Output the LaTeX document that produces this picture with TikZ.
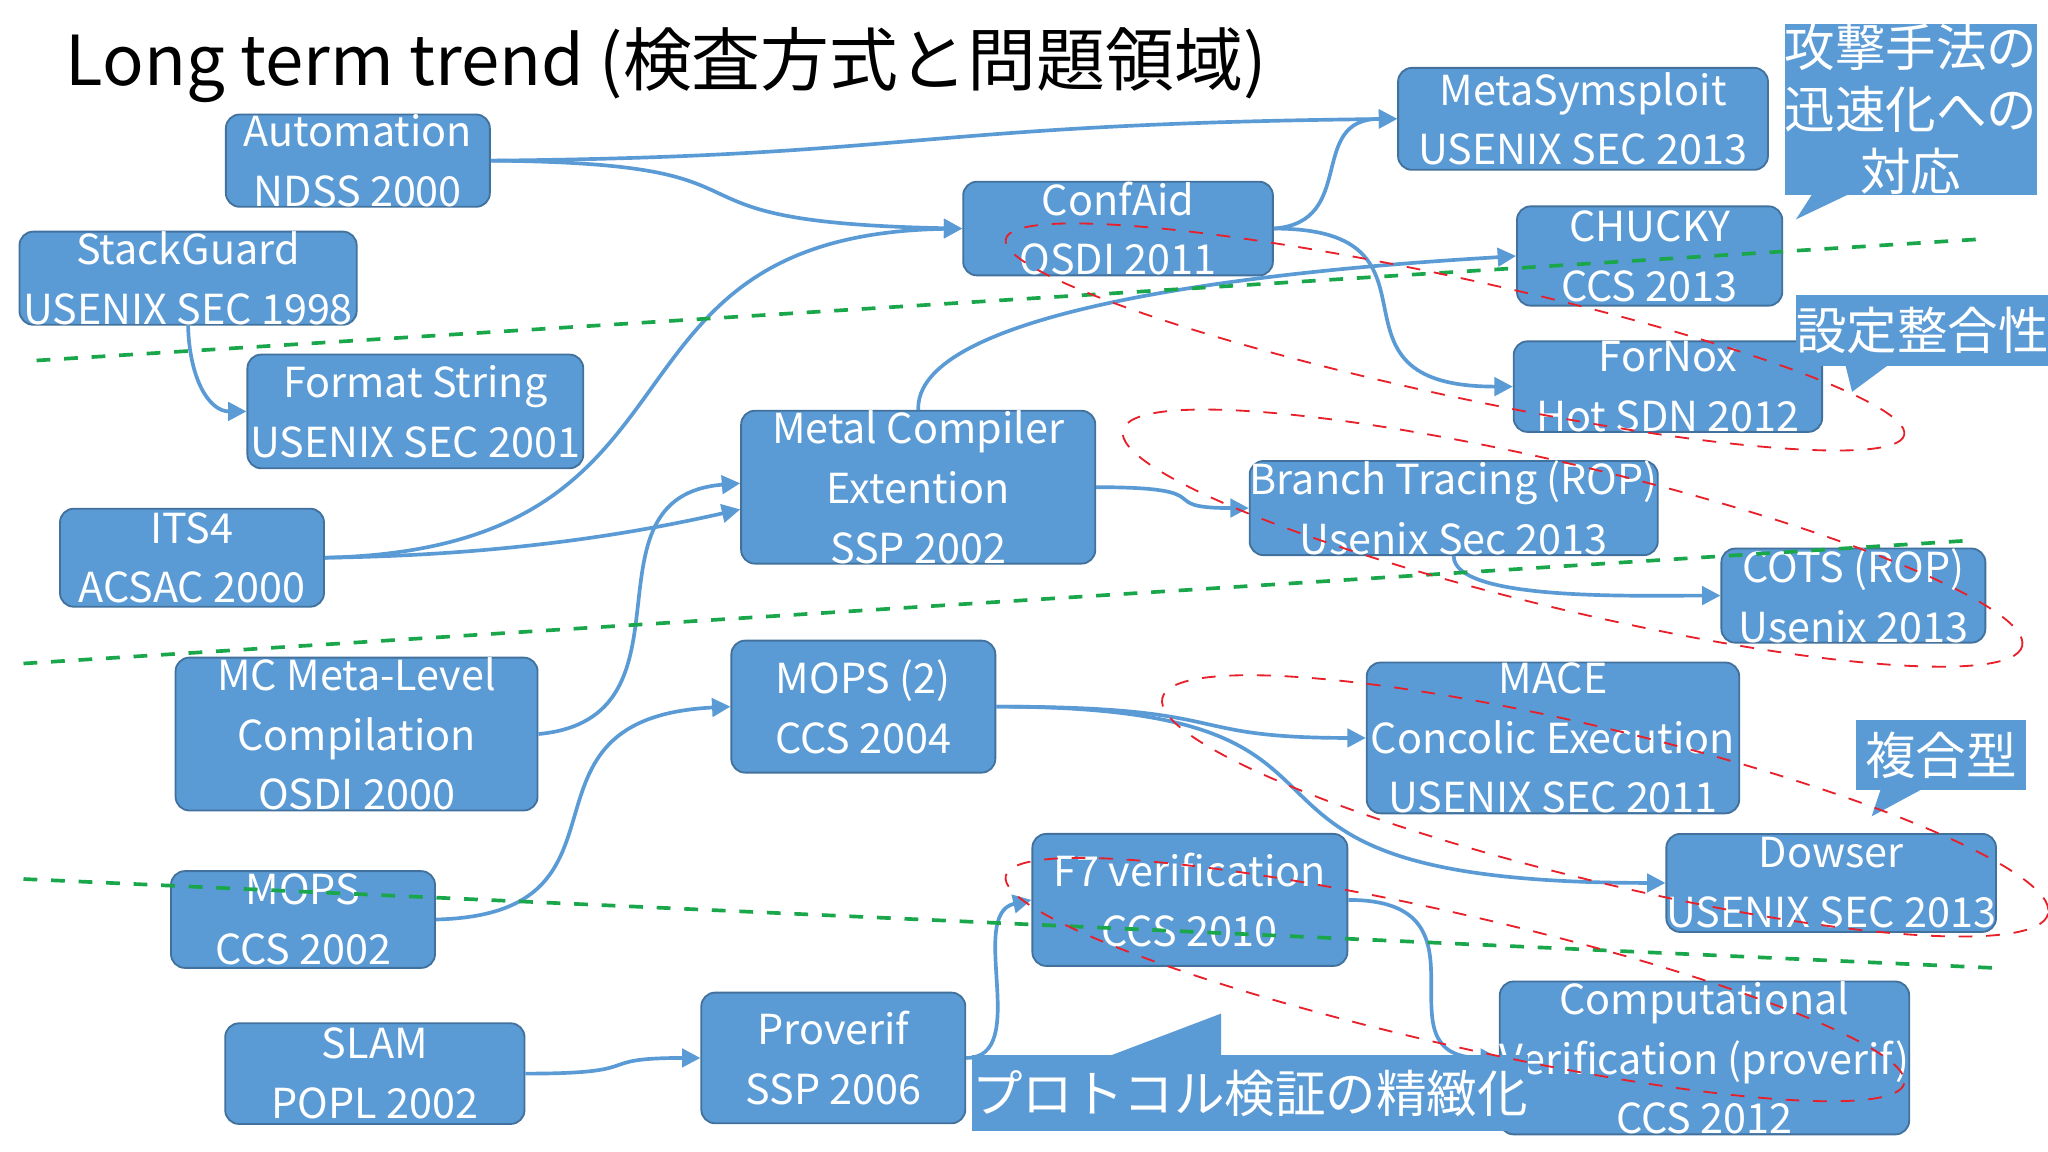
\documentclass[tikz,border=0pt]{standalone}
\usepackage{fontspec}
\setmainfont{Noto Sans CJK JP}
\usetikzlibrary{arrows.meta}
\definecolor{boxfill}{HTML}{5B9BD5}
\definecolor{boxline}{HTML}{41719C}
\definecolor{redline}{HTML}{E8202A}
\definecolor{greenline}{HTML}{1AA64A}
\tikzset{
  box/.style={draw=boxline, fill=boxfill, text=white, rounded corners=3pt, align=center, inner sep=0pt, font=\fontsize{9}{13}\selectfont},
  callout/.style={fill=boxfill, text=white, align=center, inner sep=0pt, font=\fontsize{11}{13.5}\selectfont},
  link/.style={draw=boxfill, thick, -{Triangle[length=4pt,width=4pt]}},
  groupline/.style={draw=redline, dashed, thin},
  borderline/.style={draw=greenline, dashed, thick}
}
\begin{document}
\begin{tikzpicture}[x=0.01cm,y=-0.01cm]
	\useasboundingbox[fill=white] (0,0) rectangle (1568,882);
	\node[anchor=west, font=\fontsize{15}{18}\selectfont] (title) at (38,50) {Long term trend (検査方式と問題領域)};
	% boxes
	\node[box, minimum width=2.02cm, minimum height=0.68cm] (auto) at (274,123) {Automation\\NDSS 2000};
	\node[box, minimum width=2.58cm, minimum height=0.67cm] (stack) at (144,213) {StackGuard\\USENIX SEC 1998};
	\node[box, minimum width=2.57cm, minimum height=0.87cm] (format) at (318,315) {Format String\\USENIX SEC 2001};
	\node[box, minimum width=2.02cm, minimum height=0.75cm] (its) at (147,427) {ITS4\\ACSAC 2000};
	\node[box, minimum width=2.77cm, minimum height=1.01cm] (mc) at (273,562) {MC Meta-Level\\Compilation\\OSDI 2000};
	\node[box, minimum width=2.02cm, minimum height=0.74cm] (mops) at (232,704) {MOPS\\CCS 2002};
	\node[box, minimum width=2.29cm, minimum height=0.77cm] (slam) at (287,822) {SLAM\\POPL 2002};
	\node[box, minimum width=2.71cm, minimum height=1.01cm] (metal) at (703,373) {Metal Compiler\\Extention\\SSP 2002};
	\node[box, minimum width=2.02cm, minimum height=1.01cm] (mops2) at (661,541) {MOPS (2)\\CCS 2004};
	\node[box, minimum width=2.02cm, minimum height=1.00cm] (proverif) at (638,810) {Proverif\\SSP 2006};
	\node[box, minimum width=2.37cm, minimum height=0.67cm] (confaid) at (856,175) {ConfAid\\OSDI 2011};
	\node[box, minimum width=2.83cm, minimum height=0.78cm] (meta) at (1212,91) {MetaSymsploit\\USENIX SEC 2013};
	\node[box, minimum width=2.03cm, minimum height=0.76cm] (chucky) at (1263,196) {CHUCKY\\CCS 2013};
	\node[box, minimum width=2.36cm, minimum height=0.66cm] (fornox) at (1277,296) {ForNox\\Hot SDN 2012};
	\node[box, minimum width=2.99cm, minimum height=0.65cm] (branch) at (1113,389) {Branch Tracing (ROP)\\Usenix Sec 2013};
	\node[box, minimum width=2.02cm, minimum height=0.65cm] (cots) at (1419,456) {COTS (ROP)\\Usenix 2013};
	\node[box, minimum width=2.85cm, minimum height=1.01cm] (mace) at (1189,565) {MACE\\Concolic Execution\\USENIX SEC 2011};
	\node[box, minimum width=2.36cm, minimum height=0.75cm] (dowser) at (1402,676) {Dowser\\USENIX SEC 2013};
	\node[box, minimum width=2.41cm, minimum height=1.01cm] (f7) at (911,689) {F7 verification\\CCS 2010};
	\node[box, minimum width=2.95cm, minimum height=1.00cm] (comp) at (1305,810) {Computational\\Verification (proverif)\\CCS 2012};
	% callouts
	\coordinate (tipa) at (1375,168);
	\coordinate (tipb) at (1418,300);
	\coordinate (tipc) at (1433,625);
	\coordinate (tipd) at (935,776);
	\fill[boxfill] (1395,137) -- (tipa) -- (1440,137) -- cycle;
	\fill[boxfill] (1413,280) -- (tipb) -- (1445,280) -- cycle;
	\fill[boxfill] (1440,604) -- (tipc) -- (1472,604) -- cycle;
	\fill[boxfill] (848,809) -- (tipd) -- (935,809) -- cycle;
	\node[callout, minimum width=1.73cm, minimum height=1.08cm] (attack) at (1463,84) {攻撃手法の\\迅速化への\\対応};
	\node[callout, minimum width=1.73cm, minimum height=0.55cm] (config) at (1472,253) {設定整合性};
	\node[callout, minimum width=1.30cm, minimum height=0.53cm] (hybrid) at (1486,578) {複合型};
	\node[callout, minimum width=3.33cm, minimum height=0.58cm] (proto) at (957,837) {プロトコル検証の精緻化};
	% connectors
	\draw[link] (auto.east) .. controls (700,120) and (700,95) .. (meta.west);
	\draw[link] (auto.east) .. controls (620,125) and (480,170) .. (confaid.west);
	\draw[link] (stack.south) .. controls (145,290) and (160,315) .. (format.west);
	\draw[link] (its.east) .. controls (560,420) and (440,180) .. (confaid.west);
	\draw[link] (its.east) .. controls (400,425) and (500,405) .. (metal.west |- 0,390);
	\draw[link] (mc.east) .. controls (540,550) and (440,380) .. (metal.west |- 0,370);
	\draw[link] (mops.east) .. controls (500,700) and (380,550) .. (mops2.west);
	\draw[link] (slam.east) .. controls (500,822) and (450,810) .. (proverif.west);
	\draw[link] (proverif.east) .. controls (790,810) and (740,700) .. (f7.west);
	\draw[link] (metal.north) .. controls (700,220) and (1100,200) .. (chucky.west);
	\draw[link] (metal.east) .. controls (940,373) and (880,389) .. (branch.west);
	\draw[link] (branch.south) .. controls (1113,460) and (1250,456) .. (cots.west);
	\draw[link] (confaid.east) .. controls (1040,170) and (1000,91) .. (meta.west);
	\draw[link] (confaid.east) .. controls (1120,175) and (1000,296) .. (fornox.west);
	\draw[link] (mops2.east) .. controls (950,541) and (900,565) .. (mace.west);
	\draw[link] (mops2.east) .. controls (1100,541) and (880,676) .. (dowser.west);
	\draw[link] (f7.east) .. controls (1150,689) and (1050,810) .. (comp.west);
	% group borders
	\draw[borderline] (28,276) -- (1518,183);
	\draw[borderline] (18,508) -- (1505,414);
	\draw[borderline] (18,673) -- (1525,741);
	\draw[groupline] (1114,258) ellipse[x radius=352, y radius=45, rotate=-12.3];
	\draw[groupline] (1204,412) ellipse[x radius=354, y radius=55, rotate=-13.5];
	\draw[groupline] (1229,617) ellipse[x radius=349, y radius=58, rotate=-13.7];
	\draw[groupline] (1114,750) ellipse[x radius=353, y radius=50, rotate=-13];
\end{tikzpicture}
\end{document}
